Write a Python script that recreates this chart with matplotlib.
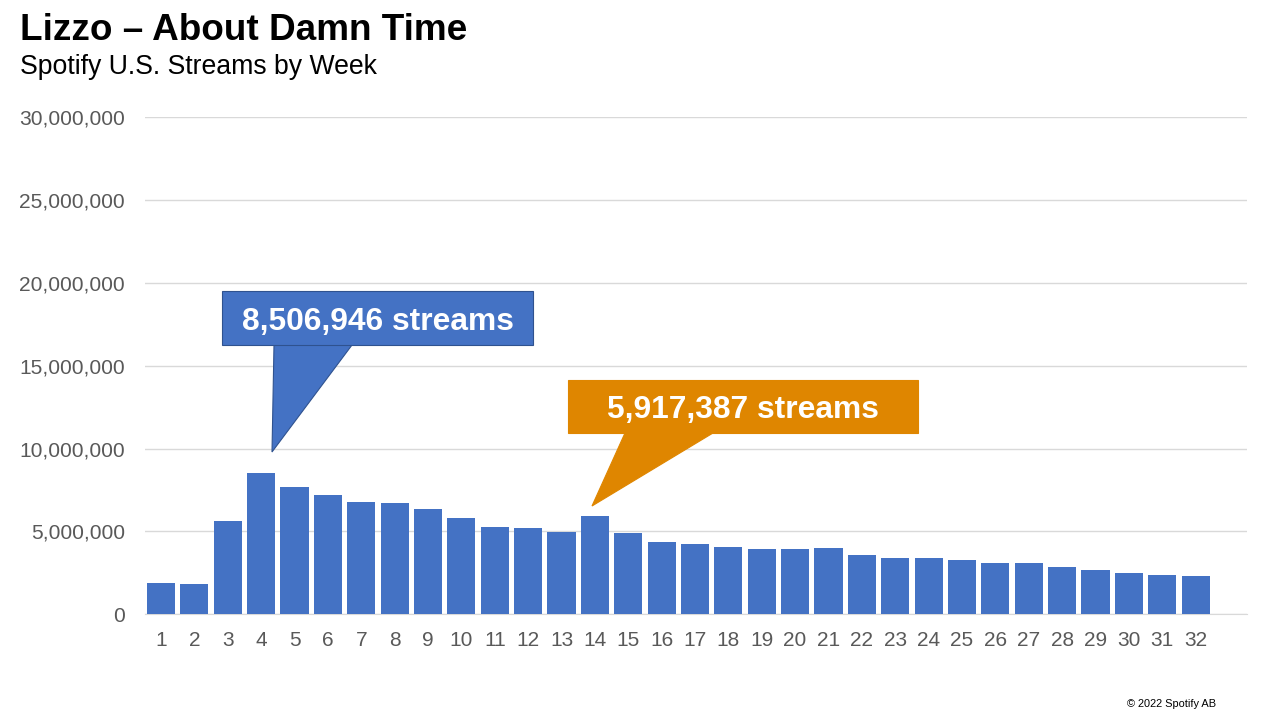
import matplotlib
matplotlib.use("Agg")
import matplotlib.pyplot as plt
from matplotlib.patches import Polygon, Rectangle
from matplotlib.ticker import FuncFormatter

plt.rcParams['font.family'] = ['Liberation Sans', 'DejaVu Sans']

weeks = list(range(1, 33))
streams = [1.90e6, 1.84e6, 5.60e6, 8506946, 7.67e6, 7.18e6, 6.76e6, 6.70e6,
           6.34e6, 5.83e6, 5.28e6, 5.22e6, 4.98e6, 5917387, 4.92e6, 4.38e6,
           4.27e6, 4.09e6, 3.96e6, 3.96e6, 4.02e6, 3.60e6, 3.42e6, 3.42e6,
           3.30e6, 3.12e6, 3.12e6, 2.87e6, 2.69e6, 2.51e6, 2.39e6, 2.33e6]
y_ticks = [0, 5e6, 10e6, 15e6, 20e6, 25e6, 30e6]

title = "Lizzo \u2013 About Damn Time"
subtitle = "Spotify U.S. Streams by Week"
callout1 = "8,506,946 streams"
callout2 = "5,917,387 streams"
credit = "\u00a9 2022 Spotify AB"

W, H = 1280, 720
fig = plt.figure(figsize=(12.8, 7.2), dpi=100)
ax = fig.add_axes([145 / W, 1 - 614.3 / H, (1247 - 145) / W, (614.3 - 117) / H])

bar_color = "#4472C4"
ax.bar(weeks, streams, width=0.84, color=bar_color, zorder=3)
ax.set_xlim(0.52, 33.54)
ax.set_ylim(0, 30e6)
ax.set_yticks(y_ticks)
ax.yaxis.set_major_formatter(FuncFormatter(lambda v, p: f"{int(v):,}"))
ax.set_xticks(weeks)
ax.set_xticklabels([str(w) for w in weeks])
ax.grid(axis="y", color="#D9D9D9", linewidth=1, zorder=0)
for s in ["top", "right", "left"]:
    ax.spines[s].set_visible(False)
ax.spines["bottom"].set_color("#D9D9D9")
ax.tick_params(axis="both", length=0, colors="#595959", labelsize=15)
ax.tick_params(axis="y", labelsize=15.1, pad=14.5)
ax.tick_params(axis="x", pad=12)

fig.text(20 / W, 1 - 31 / H, title, fontsize=26.6, fontweight="bold", color="black",
         ha="left", va="center")
fig.text(20 / W, 1 - 67 / H, subtitle, fontsize=19.2, color="black",
         ha="left", va="center")
fig.text(1127 / W, 1 - 704 / H, credit, fontsize=7.9, color="black",
         ha="left", va="center")

def px(x, y):
    return (x / W, 1 - y / H)

def callout(rect, base, tip, color, edge, text):
    x0, y0, x1, y1 = rect
    tri = Polygon([px(base[0], y1), px(base[1], y1), px(*tip)], closed=True,
                  transform=fig.transFigure, facecolor=color, edgecolor=edge,
                  linewidth=0.8, zorder=5)
    fig.add_artist(tri)
    r = Rectangle(px(x0, y1), (x1 - x0) / W, (y1 - y0) / H, transform=fig.transFigure,
                  facecolor=color, edgecolor=edge, linewidth=0.8, zorder=6)
    fig.add_artist(r)
    fig.text((x0 + x1) / 2 / W, 1 - ((y0 + y1) / 2 + 3.5) / H, text, fontsize=22.9,
             fontweight="bold", color="white", ha="center", va="center", zorder=7)

callout((222, 291, 533, 345), (274, 352), (272, 452), bar_color, "#2F528F", callout1)
callout((568, 380, 918, 433), (625, 713), (592, 506), "#DF8600", "#DF8600", callout2)

fig.savefig("out.png", dpi=100)
